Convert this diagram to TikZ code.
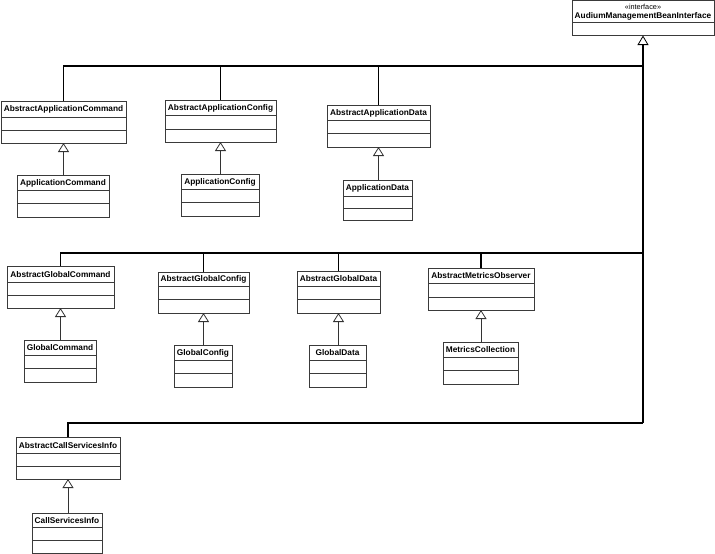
\documentclass[tikz,border=0pt]{standalone}
\usepackage{fontspec}
\setmainfont{Liberation Sans}
\usetikzlibrary{arrows.meta}
\definecolor{boxline}{HTML}{3A3A3A}
\tikzset{
  cls/.style={draw=boxline, line width=0.9pt, fill=white, rectangle, inner sep=0pt, outer sep=0pt},
  div/.style={draw=boxline, line width=0.9pt},
  lbl/.style={font=\fontsize{8.3}{9}\selectfont\bfseries, inner sep=0pt, anchor=center},
  conn/.style={draw=black, line width=1.2pt},
  trunk/.style={draw=black, line width=1.5pt},
  gen/.style={draw=black!80, line width=0.9pt, -{Triangle[open, length=9pt, width=11pt, line width=0.8pt]}},
}
\newcommand\umlcls[8]{%
  \node[cls, minimum width={(#4-#2)*1pt}, minimum height={(#5-#3)*1pt}] (#1) at ({(#2+#4)/2},{(#3+#5)/2}) {};
  \draw[div] (#2,#6) -- (#4,#6);
  \draw[div] (#2,#7) -- (#4,#7);
  \node[lbl] (#1-t) at ({(#2+#4)/2},{(#3+#6)/2+0.5}) {#8};
}
\begin{document}
\begin{tikzpicture}[x=1pt,y=-1pt]
\useasboundingbox (0,0) rectangle (715,554);
% interface
\node[cls, minimum width=142pt, minimum height=35pt] (iface) at (643,18) {};
\draw[div] (572,22.5) -- (714,22.5);
\node[font=\fontsize{7.3}{8}\selectfont, inner sep=0pt] (iface-s) at (643,6.5) {«interface»};
\node[lbl] (iface-t) at (643,16) {AudiumManagementBeanInterface};
% row 1
\umlcls{aacmd}{1}{101}{126}{143}{117}{130}{AbstractApplicationCommand}
\umlcls{acmd}{17}{175}{109}{217}{190}{203}{ApplicationCommand}
\umlcls{aacfg}{165}{100}{276}{142}{115}{129}{AbstractApplicationConfig}
\umlcls{acfg}{181}{174}{259}{216}{189}{202}{ApplicationConfig}
\umlcls{aadat}{327}{105}{430}{147}{120}{133}{AbstractApplicationData}
\umlcls{adat}{343}{180}{412}{220}{196}{208}{ApplicationData}
% row 2
\umlcls{agcmd}{7}{266}{114}{308}{282}{295}{AbstractGlobalCommand}
\umlcls{gcmd}{24}{340}{96}{382}{355}{368}{GlobalCommand}
\umlcls{agcfg}{158}{272}{249}{313}{286}{299}{AbstractGlobalConfig}
\umlcls{gcfg}{174}{345}{232}{387}{360}{373}{GlobalConfig}
\umlcls{agdat}{297}{271}{380}{313}{286}{299}{AbstractGlobalData}
\umlcls{gdat}{309}{345}{366}{387}{360}{373}{GlobalData}
\umlcls{amobs}{428}{268}{534}{310}{283}{297}{AbstractMetricsObserver}
\umlcls{mcol}{443}{342}{518}{384}{357}{370}{MetricsCollection}
% row 3
\umlcls{acsi}{16}{437}{120}{479}{453}{466}{AbstractCallServicesInfo}
\umlcls{csi}{32}{513}{102}{553}{527}{540}{CallServicesInfo}
% junctions on the trunk
\coordinate (j1) at (643,66);
\coordinate (j2) at (643,253);
\coordinate (j3) at (643,423);
% buses
\draw[conn] (aacmd.north) |- (j1);
\draw[conn] (aacfg.north) |- (j1);
\draw[conn] (aadat.north) |- (j1);
\draw[conn] (agcmd.north) |- (j2);
\draw[conn] (agcfg.north) |- (j2);
\draw[conn] (agdat.north) |- (j2);
\draw[conn] (amobs.north) |- (j2);
\draw[conn] (acsi.north) |- (j3);
\draw[trunk] (aadat.north |- j1) -- (j1);
\draw[trunk] (agdat.north |- j2) -- (j2);
\draw[trunk] (j3) -- (j1);
\draw[trunk, -{Triangle[open, length=9.5pt, width=11pt, line width=0.8pt]}] (j1) -- (iface.south);
% generalizations
\draw[gen] (acmd.north -| aacmd.south) -- (aacmd.south);
\draw[gen] (acfg.north -| aacfg.south) -- (aacfg.south);
\draw[gen] (adat.north -| aadat.south) -- (aadat.south);
\draw[gen] (gcmd.north -| agcmd.south) -- (agcmd.south);
\draw[gen] (gcfg.north -| agcfg.south) -- (agcfg.south);
\draw[gen] (gdat.north -| agdat.south) -- (agdat.south);
\draw[gen] (mcol.north -| amobs.south) -- (amobs.south);
\draw[gen] (csi.north -| acsi.south) -- (acsi.south);
\end{tikzpicture}
\end{document}
